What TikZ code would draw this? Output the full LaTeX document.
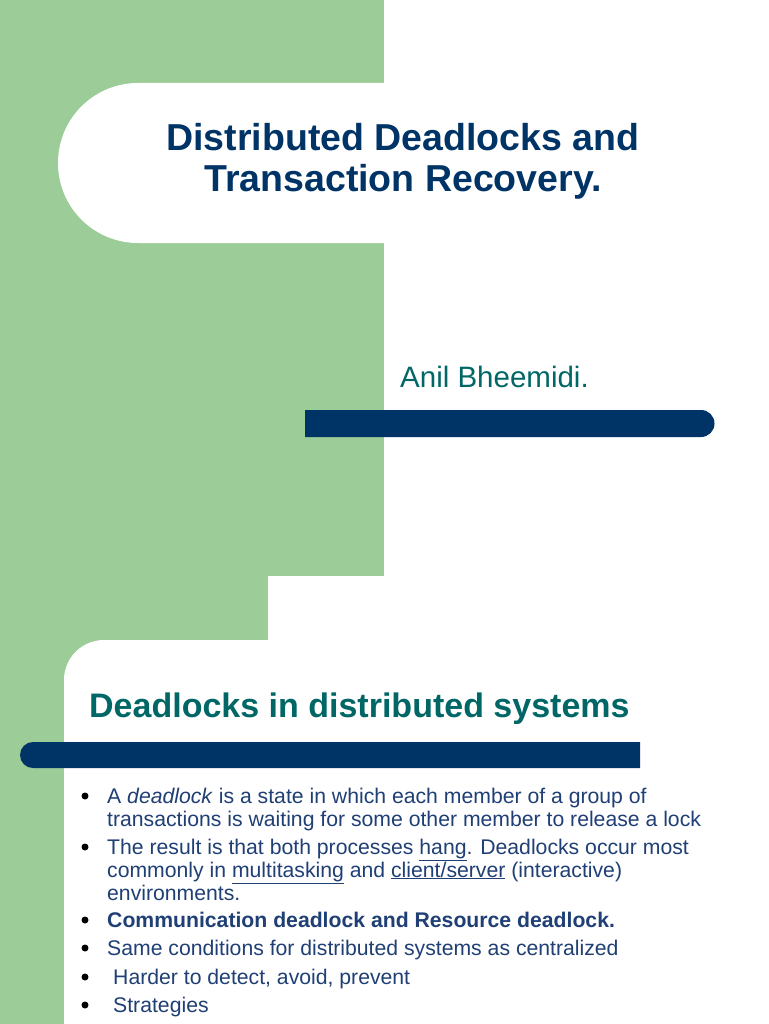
\documentclass[tikz,border=0pt]{standalone}
\usepackage{fontspec}
\setmainfont{Liberation Sans}
\definecolor{gr}{HTML}{9CCC98}
\definecolor{navy}{HTML}{003366}
\definecolor{teal2}{HTML}{006666}
\definecolor{btxt}{HTML}{1F3F75}
\begin{document}
\begin{tikzpicture}[x=1pt,y=-1pt,
  tl/.style={font=\fontsize{21.2}{23}\selectfont,text=btxt,anchor=base west,inner sep=0},
  dot/.style={circle,fill=black,inner sep=0,minimum size=7pt}]
\useasboundingbox (0,0) rectangle (768,1024);
\fill[white] (0,0) rectangle (768,1024);
\fill[gr] (0,0) rectangle (384,576);
\fill[gr] (0,576) rectangle (268,1024);
% white rounded title shape
\fill[white] (384,83) -- (138,83) arc[start angle=270,end angle=90,radius=80] -- (384,243) -- cycle;
\node[font=\fontsize{37.5}{41}\selectfont\bfseries,text=navy,align=center] (title) at (403,161) {Distributed Deadlocks and\\Transaction Recovery.};
\node[font=\fontsize{29.5}{32}\selectfont,text=teal2,anchor=base west,inner sep=0] (auth) at (400,387) {Anil Bheemidi.};
\fill[navy] (305,410) -- (701,410) arc[start angle=270,end angle=450,radius=13.5] -- (305,437) -- cycle;
% second slide white
\fill[white] (268,576) rectangle (768,640);
\fill[white] (64,1024) -- (64,680) arc[start angle=180,end angle=270,radius=40] -- (768,640) -- (768,1024) -- cycle;
\node[font=\fontsize{34}{38}\selectfont\bfseries,text=teal2,anchor=base west,inner sep=0] (head) at (89,717) {Deadlocks in distributed systems};
\fill[navy] (640,742) -- (33,742) arc[start angle=270,end angle=90,radius=13] -- (640,768) -- cycle;
% bullets
\foreach \y in {796,847,920,948,977,1005} \node[dot] at (85,\y) {};
\node[tl] (b1) at (107,803) {A \textit{deadlock} is a state in which each member of a group of};
\node[tl] (b1b) at (107,826) {transactions is waiting for some other member to release a lock};
\node[tl] (b2) at (107,854) {The result is that both processes \underline{hang}. Deadlocks occur most};
\node[tl] (b2b) at (107,877) {commonly in \underline{multitasking} and \underline{client/server} (interactive)};
\node[tl] (b2c) at (107,900) {environments.};
\node[tl,font=\fontsize{21.2}{23}\selectfont\bfseries] (b3) at (107,927) {Communication deadlock and Resource deadlock.};
\node[tl] (b4) at (107,955) {Same conditions for distributed systems as centralized};
\node[tl] (b5) at (113,984) {Harder to detect, avoid, prevent};
\node[tl] (b6) at (113,1012) {Strategies};
\end{tikzpicture}
\end{document}
